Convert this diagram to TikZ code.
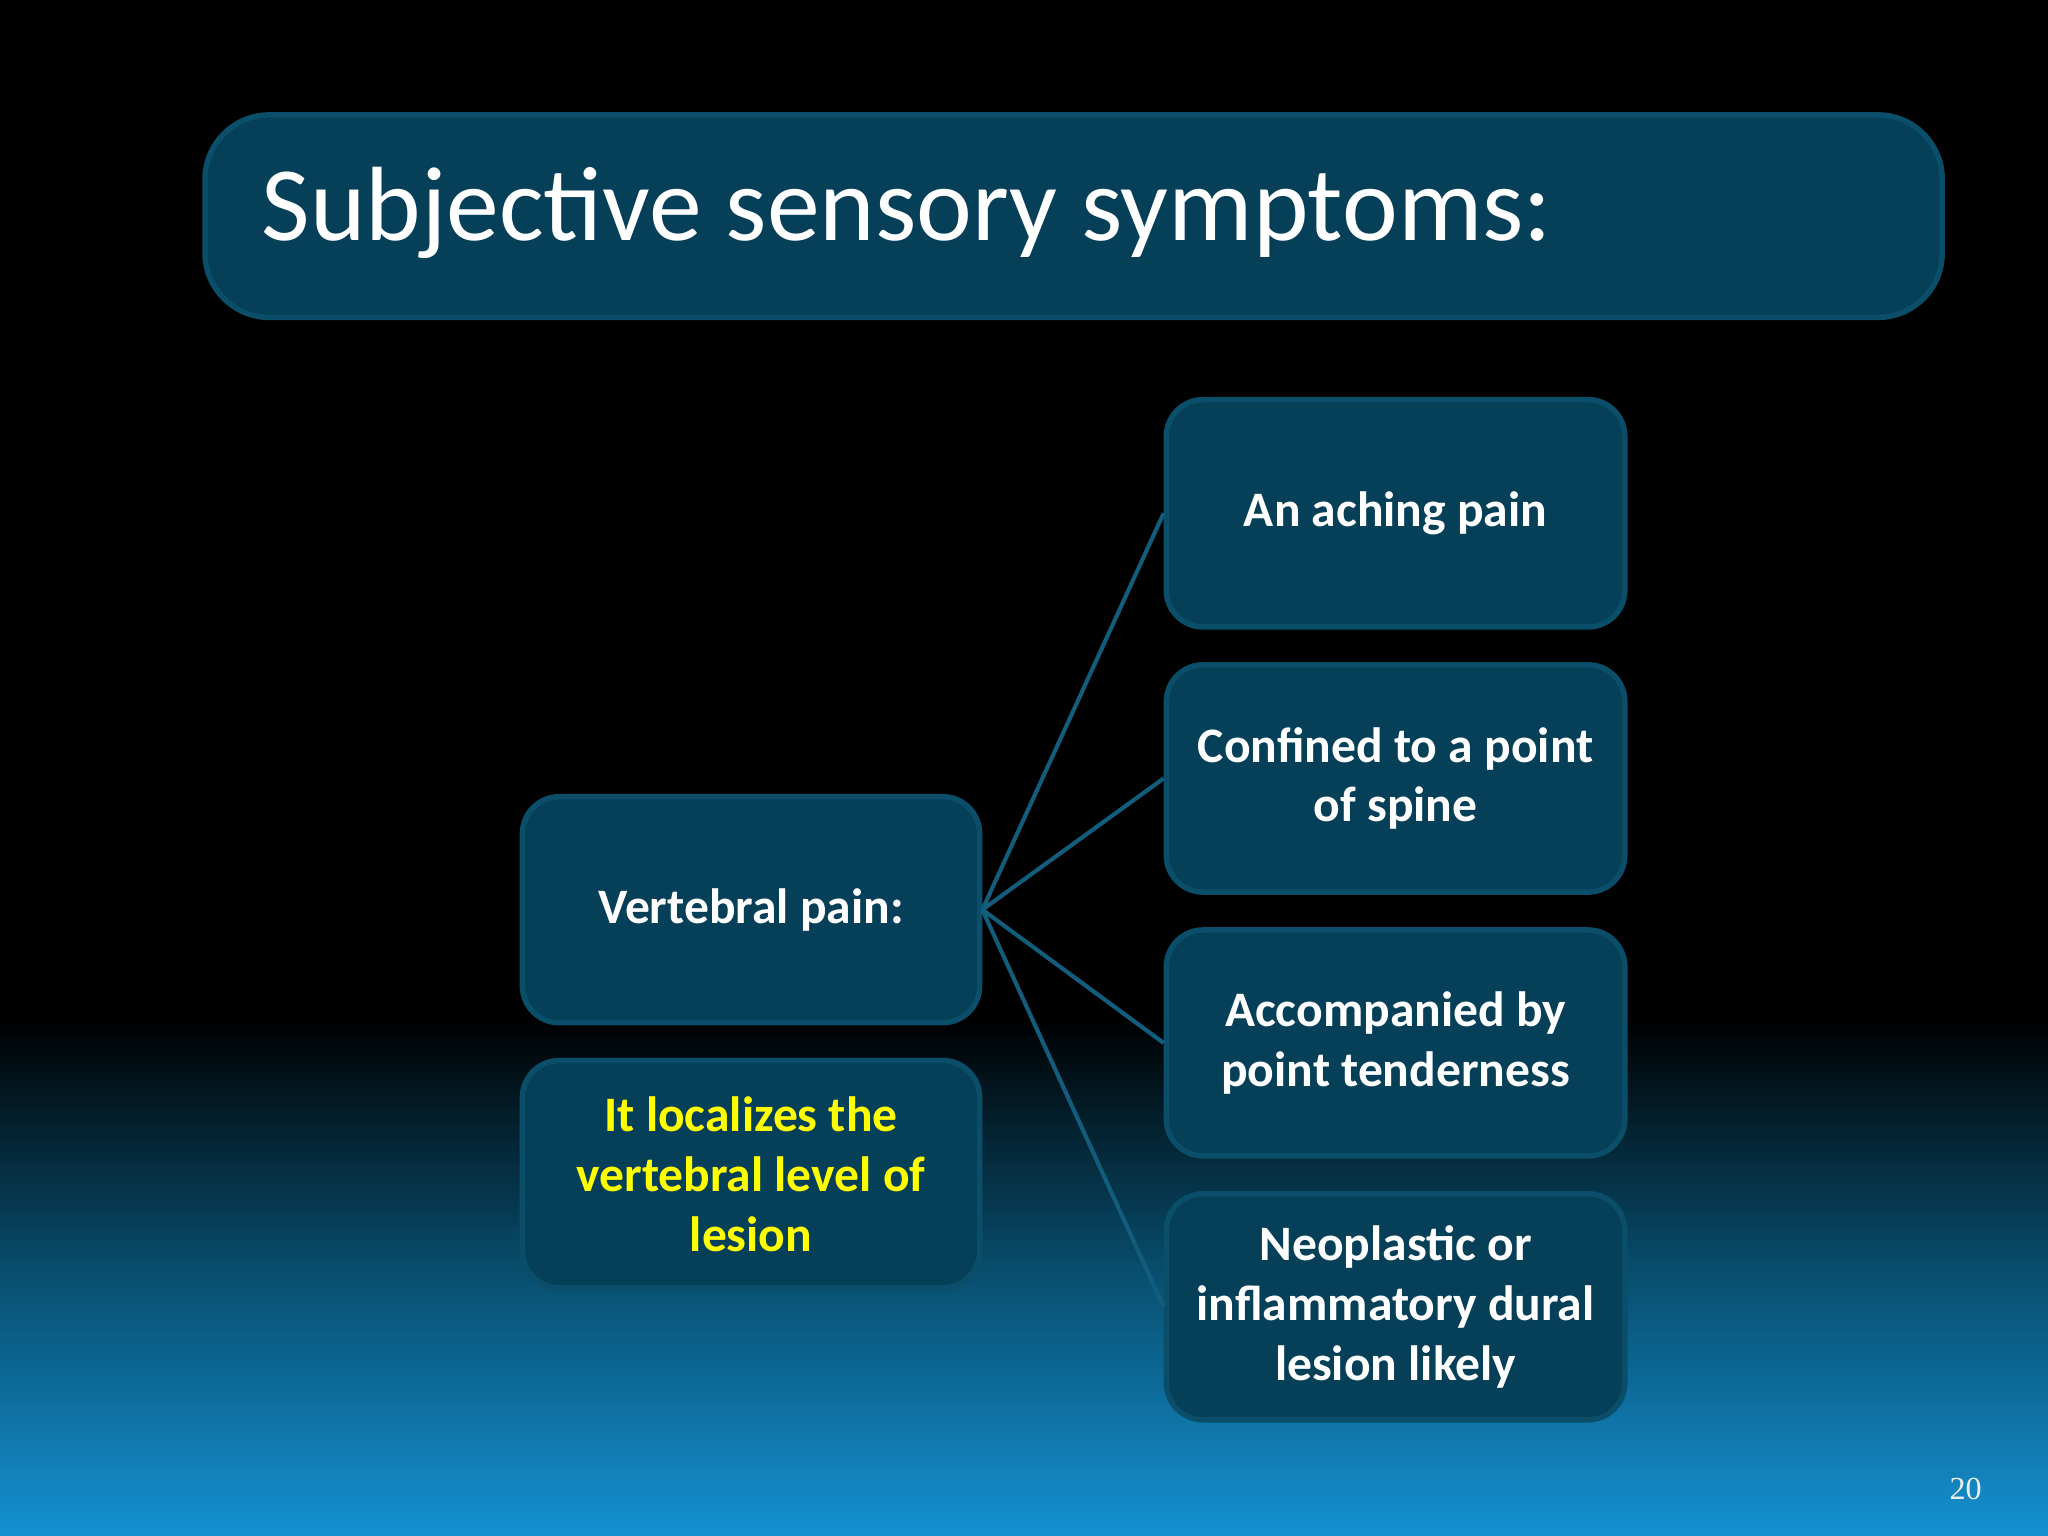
\documentclass[tikz,border=0pt]{standalone}
\usepackage{fontspec}
\setmainfont{Carlito}
\newfontfamily\seriffont{Liberation Serif}
\begin{document}
\begin{tikzpicture}[x=0.01cm,y=-0.01cm,
  box/.style={draw=boxedge,line width=1.2pt,fill=boxfill,rounded corners=8pt,inner sep=0pt,align=center,text=white,font=\bfseries\fontsize{10.8}{13}\selectfont},
  link/.style={draw=linkc,line width=0.9pt}]
\definecolor{boxfill}{HTML}{053F58}
\definecolor{boxedge}{HTML}{0A4E6A}
\definecolor{linkc}{HTML}{125C7C}
\definecolor{bluebot}{HTML}{1591D2}
\definecolor{hl}{HTML}{FFFF00}
\useasboundingbox (0,0) rectangle (1568,1176);
\fill[black] (0,0) rectangle (1568,1176);
\shade[top color=black,bottom color=bluebot,middle color=boxfill!80!bluebot] (0,780) rectangle (1568,1176);
\node[box,minimum width=1330*0.01cm,minimum height=155*0.01cm,rounded corners=14pt] (title) at (822,165.5) {};
\node[anchor=west,text=white,font=\fontsize{23}{27}\selectfont] (tt) at (188,163) {Subjective sensory symptoms:};
\node[box,minimum width=350*0.01cm,minimum height=173*0.01cm] (vp) at (575,696.5) {Vertebral pain:};
\node[box,minimum width=350*0.01cm,minimum height=174*0.01cm,text=hl] (loc) at (575,899) {It localizes the\\vertebral level of\\lesion};
\node[box,minimum width=351*0.01cm,minimum height=174*0.01cm] (r1) at (1068.5,393) {An aching pain};
\node[box,minimum width=351*0.01cm,minimum height=174*0.01cm] (r2) at (1068.5,596) {Confined to a point\\of spine};
\node[box,minimum width=351*0.01cm,minimum height=173*0.01cm] (r3) at (1068.5,798.5) {Accompanied by\\point tenderness};
\node[box,minimum width=351*0.01cm,minimum height=173*0.01cm] (r4) at (1068.5,1000.5) {Neoplastic or\\inflammatory dural\\lesion likely};
\foreach \r in {r1,r2,r3,r4} \draw[link] (vp.east) -- (\r.west);
\node[text=white!85!gray,font=\seriffont\fontsize{7}{8}\selectfont] (pg) at (1505,1140) {20};
\end{tikzpicture}
\end{document}
